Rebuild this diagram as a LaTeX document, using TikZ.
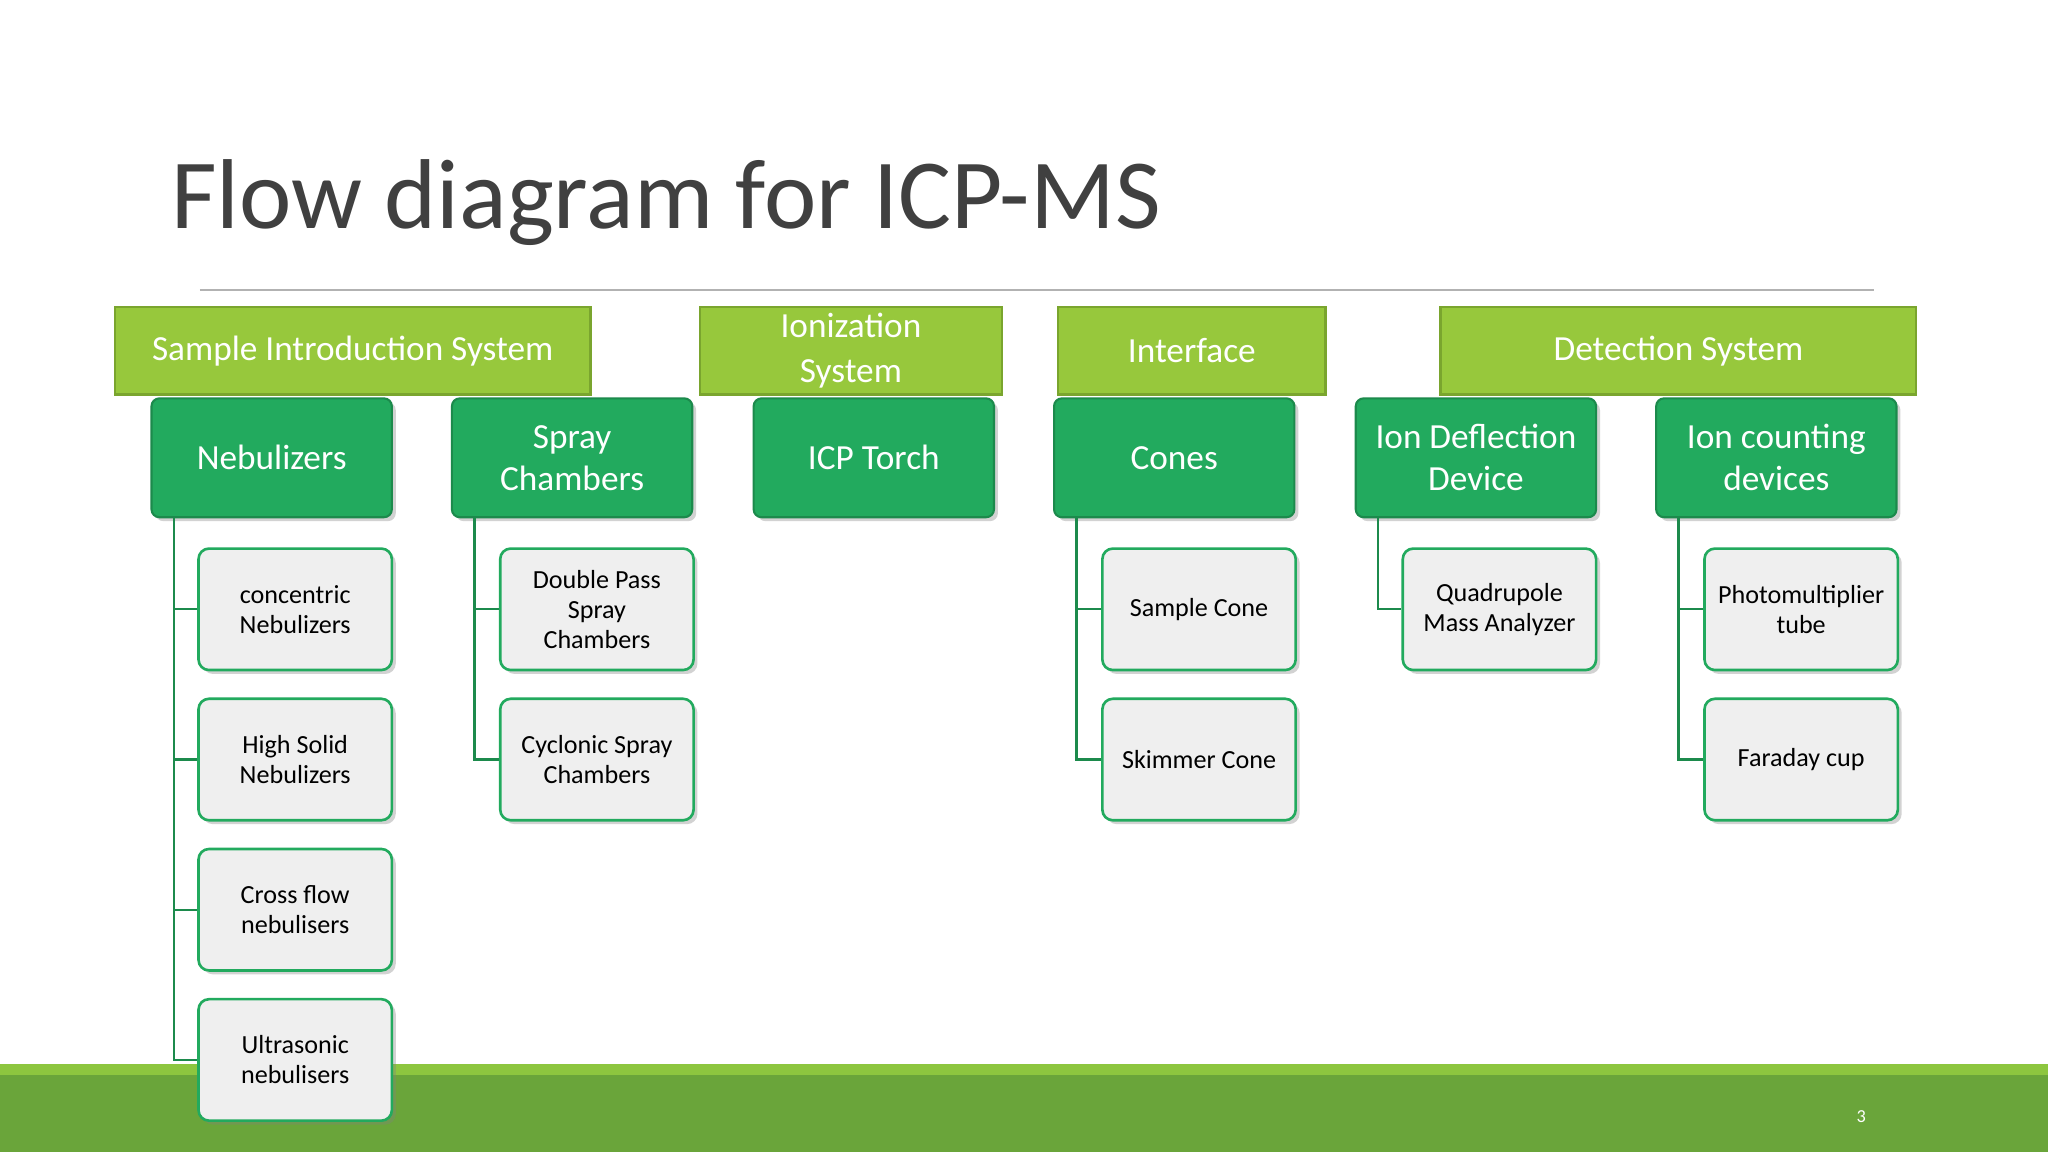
\documentclass[tikz,border=0pt]{standalone}
\usepackage{fontspec}
\setmainfont{Carlito}
\usetikzlibrary{shadows}
\definecolor{lime}{HTML}{97C83C}
\definecolor{limeedge}{HTML}{7AA52E}
\definecolor{boxgreen}{HTML}{22AA5E}
\definecolor{boxedge}{HTML}{1C8A4C}
\definecolor{light}{HTML}{EFEFEF}
\definecolor{barlight}{HTML}{8DC63F}
\definecolor{bardark}{HTML}{6AA53A}
\definecolor{titlegray}{HTML}{404040}
\begin{document}
\begin{tikzpicture}[x=0.5pt,y=-0.5pt,
  head/.style={draw=limeedge,line width=1pt,fill=lime,text=white,font=\fontsize{13.5}{17}\selectfont,align=center,inner sep=0pt},
  main/.style={draw=boxedge,line width=0.8pt,fill=boxgreen,text=white,rounded corners=3pt,font=\fontsize{13.5}{16}\selectfont,align=center,inner sep=0pt,minimum width=92pt,minimum height=45.5pt,drop shadow={opacity=0.35,shadow xshift=1.5pt,shadow yshift=-1.5pt}},
  leaf/.style={draw=boxgreen,line width=1pt,fill=light,text=black,rounded corners=4pt,font=\fontsize{10}{11.5}\selectfont,align=center,inner sep=0pt,minimum width=74pt,minimum height=46.5pt,drop shadow={opacity=0.35,shadow xshift=1.5pt,shadow yshift=-1.5pt}},
  link/.style={draw=boxedge,line width=0.9pt}]
\useasboundingbox (0,0) rectangle (1568,882);
\fill[white] (0,0) rectangle (1568,882);
% bottom bar
\fill[barlight] (0,815) rectangle (1568,823);
\fill[bardark] (0,823) rectangle (1568,882);
\node[text=white,font=\fontsize{7}{8}\selectfont] (pg) at (1425,855) {3};
% title
\node[anchor=west,text=titlegray,font=\fontsize{38}{44}\selectfont] (title) at (124,155) {Flow diagram for ICP-MS};
\draw[gray!60,line width=0.6pt] (153,222) -- (1435,222);
% headers
\node[head,minimum width=182pt,minimum height=33.5pt] (h1) at (270,268.5) {Sample Introduction System};
\node[head,minimum width=115.5pt,minimum height=33.5pt] (h2) at (651.5,268.5) {Ionization\\System};
\node[head,minimum width=102.5pt,minimum height=33.5pt] (h3) at (912.5,268.5) {Interface};
\node[head,minimum width=182pt,minimum height=33.5pt] (h4) at (1285,268.5) {Detection System};
% main boxes
\foreach \n/\x/\t in {m1/208/Nebulizers,m2/438/{Spray\\Chambers},m3/669/ICP Torch,m4/899/Cones,m5/1130/{Ion Deflection\\Device},m6/1360/{Ion counting\\devices}}
  \node[main] (\n) at (\x,350.5) {\t};
% leaves
\foreach \n/\x/\y/\t in {a1/226/466.5/{concentric\\Nebulizers},a2/226/581.5/{High Solid\\Nebulizers},a3/226/696.5/{Cross flow\\nebulisers},a4/226/811.5/{Ultrasonic\\nebulisers},
  b1/457/466.5/{Double Pass\\Spray\\Chambers},b2/457/581.5/{Cyclonic Spray\\Chambers},
  c1/918/466.5/{Sample Cone},c2/918/581.5/{Skimmer Cone},
  d1/1148/466.5/{Quadrupole\\Mass Analyzer},
  e1/1379/466.5/{Photomultiplier\\tube},e2/1379/581.5/{Faraday cup}}
  \node[leaf] (\n) at (\x,\y) {\t};
% connectors
\foreach \p/\c in {m1/a1,m1/a2,m1/a3,m1/a4,m2/b1,m2/b2,m4/c1,m4/c2,m5/d1,m6/e1,m6/e2}
  \draw[link] ([xshift=9pt]\p.south west) |- (\c.west);
\end{tikzpicture}
\end{document}
